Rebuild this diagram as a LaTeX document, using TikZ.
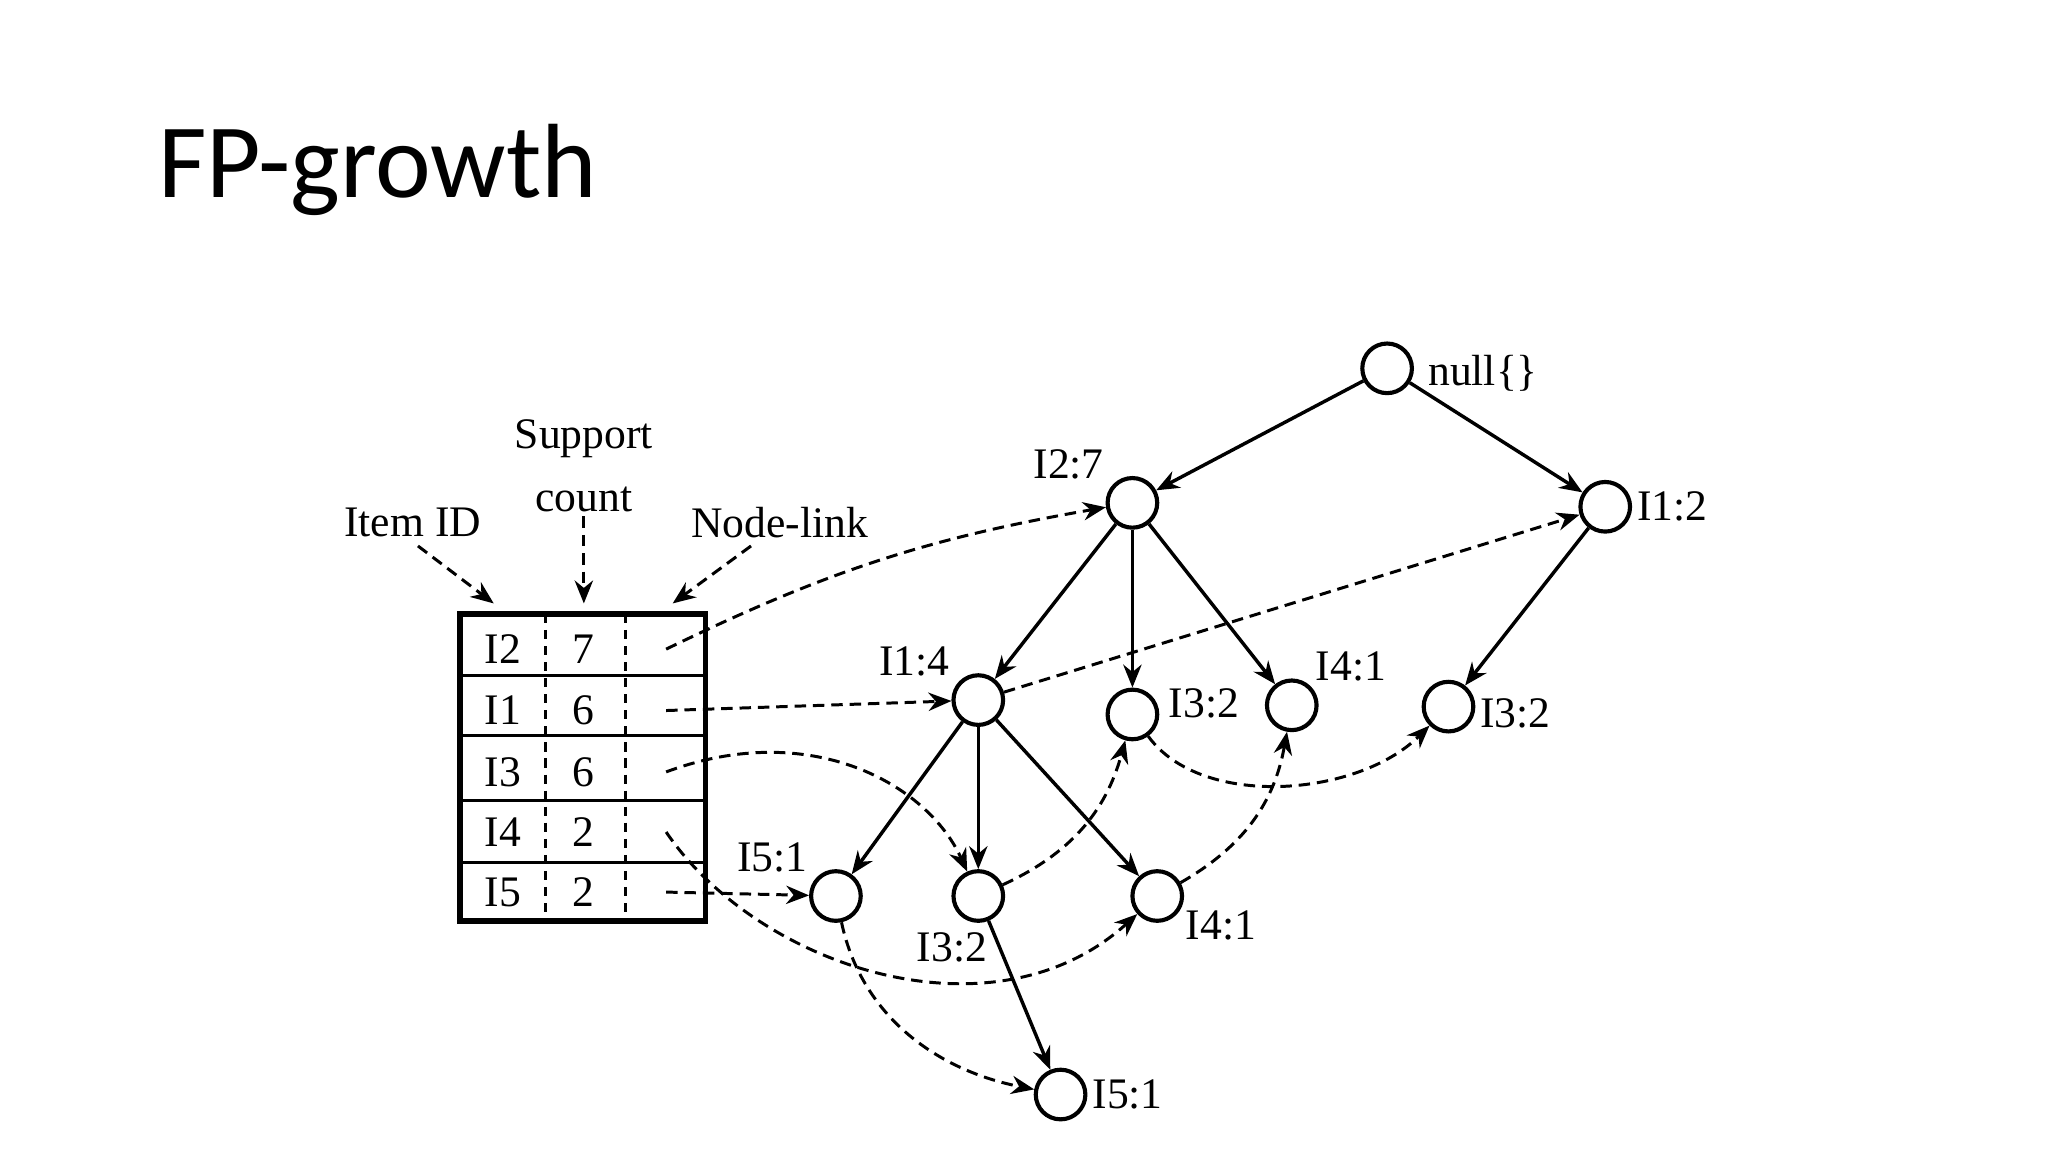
\documentclass[tikz,border=0pt]{standalone}
\usepackage{fontspec}
\setmainfont{Liberation Serif}
\setsansfont{Carlito}
\usetikzlibrary{arrows.meta}
\begin{document}
\begin{tikzpicture}[x=0.02cm,y=-0.02cm,
  nd/.style={circle,draw,line width=1.8pt,minimum size=0.76cm,inner sep=0pt},
  lb/.style={font=\fontsize{19}{19}\selectfont,inner sep=2pt},
  sol/.style={line width=1.5pt,-{Stealth[length=10pt,width=8pt]}},
  dsh/.style={line width=1.3pt,dash pattern=on 5pt off 3pt,-{Stealth[length=10pt,width=8pt]}}]
\useasboundingbox[fill=white] (0,0) rectangle (1568,882);
\node[anchor=west,font=\sffamily\fontsize{46}{46}\selectfont] (title) at (115,130) {FP-growth};
% table
\draw[line width=2.4pt] (352,470) rectangle (540,705);
\foreach \y in {517,563,613,660}{\draw[line width=1.3pt] (352,\y) -- (540,\y);}
\draw[line width=1.3pt,dash pattern=on 4pt off 3pt] (418,470) -- (418,705);
\draw[line width=1.3pt,dash pattern=on 4pt off 3pt] (479,470) -- (479,705);
\foreach \n/\c/\y/\k in {I2/7/497/a,I1/6/544/b,I3/6/591/c,I4/2/637/d,I5/2/683/e}{
  \node[lb] (id\k) at (385,\y) {\n};
  \node[lb] (ct\k) at (447,\y) {\c};
  \coordinate (nl\k) at (510,\y);
}
\node[lb] (itemid) at (316,400) {Item ID};
\node[lb] (sc1) at (447,336) {Support};
\node[lb] (sc2) at (447,382) {count};
\node[lb] (nlink) at (597,400) {Node-link};
\coordinate (t1) at (378,462); \coordinate (t2) at (447,462); \coordinate (t3) at (515,462);
\coordinate (a1) at (320,418); \coordinate (a3) at (575,418);
\draw[dsh] (a1) -- (t1);
\draw[dsh] (sc2.south) -- (t2);
\draw[dsh] (a3) -- (t3);
% nodes
\node[nd] (null) at (1062,282) {};
\node[lb,anchor=west] at ([xshift=4pt,yshift=-2pt]null.east) {null\{\}};
\node[nd] (i27) at (867,385) {};
\node[lb,anchor=south east] at ([xshift=-2pt]i27.north west) {I2:7};
\node[nd] (i12) at (1229,388) {};
\node[lb,anchor=west] at (i12.east) {I1:2};
\node[nd] (i14) at (749,536) {};
\node[lb,anchor=south east] at ([xshift=-2pt]i14.north west) {I1:4};
\node[nd] (i32a) at (867,547) {};
\node[lb,anchor=south west] at ([xshift=2pt,yshift=-4pt]i32a.east) {I3:2};
\node[nd] (i41a) at (989,540) {};
\node[lb,anchor=south west] at (i41a.north east) {I4:1};
\node[nd] (i32b) at (1109,541) {};
\node[lb,anchor=west] at ([yshift=-3pt]i32b.east) {I3:2};
\node[nd] (i51a) at (640,686) {};
\node[lb,anchor=south east] at ([xshift=-2pt]i51a.north west) {I5:1};
\node[nd] (i32c) at (749,686) {};
\node[lb,anchor=north east] at ([xshift=6pt,yshift=-2pt]i32c.south) {I3:2};
\node[nd] (i41b) at (886,686) {};
\node[lb,anchor=north west] at ([xshift=2pt,yshift=4pt]i41b.south east) {I4:1};
\node[nd] (i51b) at (812,838) {};
\node[lb,anchor=west] at (i51b.east) {I5:1};
% solid
\draw[sol] (null) -- (i27); \draw[sol] (null) -- (i12);
\draw[sol] (i27) -- (i14); \draw[sol] (i27) -- (i32a); \draw[sol] (i27) -- (i41a);
\draw[sol] (i12) -- (i32b);
\draw[sol] (i14) -- (i51a); \draw[sol] (i14) -- (i32c); \draw[sol] (i14) -- (i41b);
\draw[sol] (i32c) -- (i51b);
% dashed node-links
\draw[dsh] (nla) to[bend left=8] (i27);
\draw[dsh] (i14) -- (i12);
\draw[dsh] (nlb) -- (i14);
\draw[dsh] (nlc) .. controls (620,550) and (710,600) .. (i32c);
\draw[dsh] (i32c) to[bend right=25] (i32a);
\draw[dsh] (i32a) .. controls (920,620) and (1040,610) .. (i32b);
\draw[dsh] (nld) .. controls (580,740) and (760,800) .. (i41b);
\draw[dsh] (i41b) to[bend right=25] (i41a);
\draw[dsh] (nle) -- (i51a);
\draw[dsh] (i51a) .. controls (660,780) and (720,820) .. (i51b);
\end{tikzpicture}
\end{document}
